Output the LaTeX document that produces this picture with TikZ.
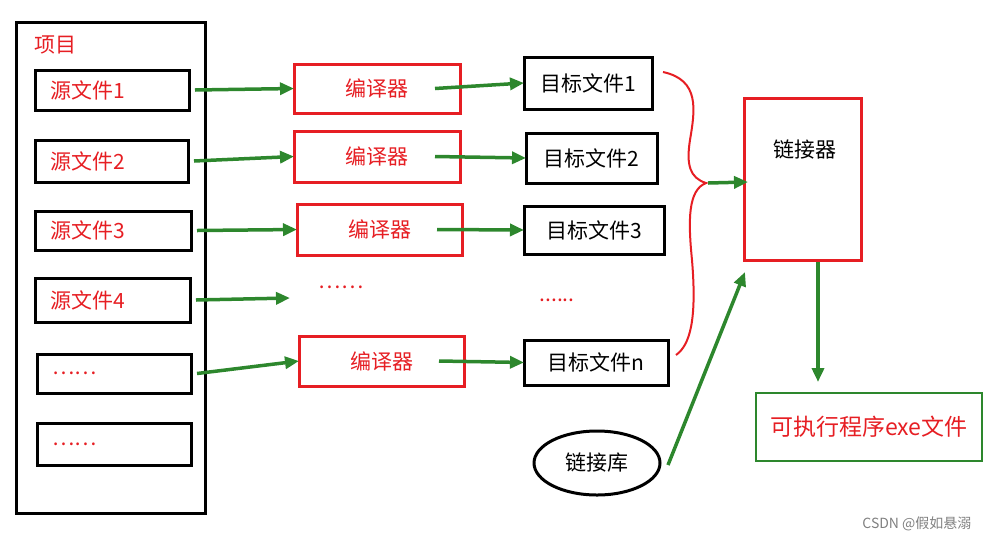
\documentclass[tikz,border=0pt]{standalone}
\usepackage{fontspec}
\setmainfont{Liberation Serif}
\newfontfamily\cjk{Noto Sans CJK SC}
\usetikzlibrary{arrows.meta}
\definecolor{gr}{RGB}{45,135,45}
\definecolor{rd}{RGB}{230,30,35}
\begin{document}
\begin{tikzpicture}[x=1pt,y=-1pt,
 blk/.style={draw=black,line width=3pt},
 rbox/.style={draw=rd,line width=3pt},
 arr/.style={draw=gr,line width=3.5pt,-{Triangle[length=14pt,width=12pt]}},
 rt/.style={text=rd,font=\cjk\fontsize{21}{21}\selectfont},
 bt/.style={text=black,font=\cjk\fontsize{21}{21}\selectfont}]
\useasboundingbox (0,0) rectangle (987,542);
\draw[blk] (16,22) rectangle (205,513);
\node[rt] (proj) at (55,45) {项目};
\foreach \n/\a/\b/\c/\d/\t in {s1/35/70/189/110/源文件1,s2/35/140/188/182/源文件2,s3/35/211/191/250/源文件3,s4/35/278/190/322/源文件4,s5/37/354/191/393/……,s6/37/423/191/465/……}{
 \draw[blk] (\a,\b) rectangle (\c,\d);
 \coordinate (\n) at ({(\a+\c)/2},{(\b+\d)/2});
 \coordinate (\n e) at (\c+6,{(\b+\d)/2});
 \node[rt,anchor=west] at (\a+12,{(\b+\d)/2}) {\t};
}
\foreach \n/\a/\b/\c/\d in {c1/294/64/460/113,c2/294/131/460/182,c3/297/204/462/255,c5/299/336/464/386}{
 \draw[rbox] (\a,\b) rectangle (\c,\d);
 \node[rt] (\n) at ({(\a+\c)/2},{(\b+\d)/2}) {编译器};
 \coordinate (\n w) at (\a,{(\b+\d)/2});
 \coordinate (\n e) at (\c-25,{(\b+\d)/2});
}
\node[rt] (cd) at (341,287) {……};
\foreach \n/\a/\b/\c/\d/\t in {t1/524/57/652/109/目标文件1,t2/526/133/657/183/目标文件2,t3/524/206/664/254/目标文件3,t5/524/340/668/385/目标文件n}{
 \draw[blk] (\a,\b) rectangle (\c,\d);
 \node[bt] (\n) at ({(\a+\c)/2},{(\b+\d)/2}) {\t};
 \coordinate (\n w) at (\a,{(\b+\d)/2});
}
\node[rt] (td) at (557,300) {......};
\coordinate (s4t) at (290,298);
\draw[arr] (s1e) -- (c1w);
\draw[arr] (s2e) -- (c2w);
\draw[arr] (s3e) -- (c3w);
\draw[arr] (s4e) -- (s4t);
\draw[arr] (s5e) -- (c5w);
\draw[arr] (c1e) -- (t1w);
\draw[arr] (c2e) -- (t2w);
\draw[arr] (c3e) -- (t3w);
\draw[arr] (c5e) -- (t5w);
\draw[rbox] (744,98) rectangle (861,260);
\node[bt] (lk) at (805,150) {链接器};
\coordinate (lkw) at (748,182);
\coordinate (lks) at (818,262);
\coordinate (lkb) at (745,272);
\draw[rd,line width=2pt] (663,72) .. controls (700,80) and (695,110) .. (690,140) .. controls (686,165) and (690,178) .. (706,183)
 .. controls (688,190) and (688,220) .. (692,260) .. controls (697,320) and (690,345) .. (676,355);
\coordinate (br) at (708,183);
\draw[arr] (br) -- (lkw);
\draw[black,line width=3pt] (597,463) ellipse (63 and 32);
\node[bt] (lib) at (597,463) {链接库};
\coordinate (libe) at (668,465);
\draw[arr] (libe) -- (lkb);
\node[draw=gr,line width=2pt,minimum width=226pt,minimum height=68pt] (out) at (869,427) {};
\coordinate (outn) at (818,382);
\draw[arr] (lks) -- (outn);
\node[font=\cjk\fontsize{23}{23}\selectfont] (outt) at (869,427) {\textcolor{rd}{可执行程序exe文件}};
\node[text=gray,font=\cjk\fontsize{14}{14}\selectfont,anchor=east] (wm) at (975,524) {CSDN @假如悬溺};
\end{tikzpicture}
\end{document}
